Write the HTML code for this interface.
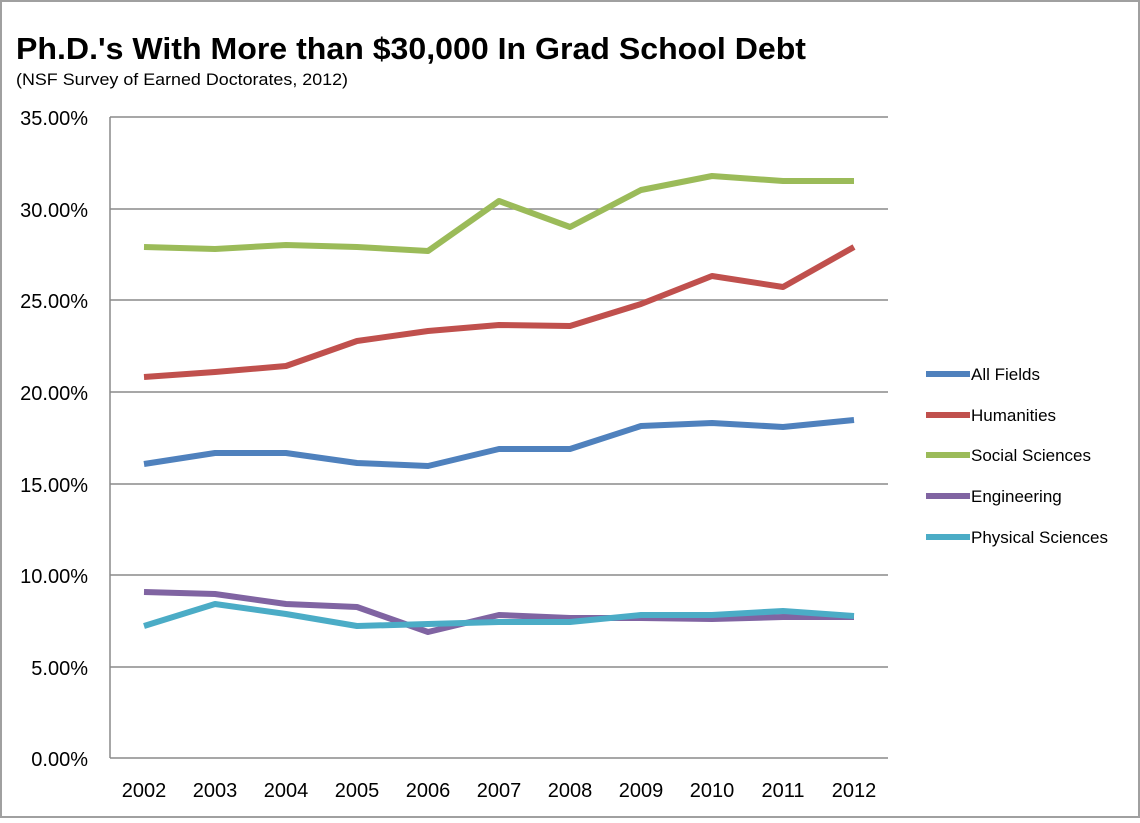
<!DOCTYPE html>
<html><head><style>body{margin:0;background:#fff}</style></head><body>
<svg width="1140" height="818" xmlns="http://www.w3.org/2000/svg" font-family="Liberation Sans, sans-serif">
<rect x="1" y="1" width="1138" height="816" fill="#fff" stroke="#a0a0a0" stroke-width="2"/>
<text x="16" y="59" font-size="31" font-weight="bold" textLength="790" lengthAdjust="spacingAndGlyphs">Ph.D.'s With More than $30,000 In Grad School Debt</text>
<text x="16" y="85" font-size="17" textLength="332" lengthAdjust="spacingAndGlyphs">(NSF Survey of Earned Doctorates, 2012)</text>
<g stroke="#8a8a8a" stroke-width="1.5">
<line x1="110" y1="117" x2="888" y2="117"/><line x1="110" y1="209" x2="888" y2="209"/>
<line x1="110" y1="300" x2="888" y2="300"/><line x1="110" y1="392" x2="888" y2="392"/>
<line x1="110" y1="484" x2="888" y2="484"/><line x1="110" y1="575" x2="888" y2="575"/>
<line x1="110" y1="667" x2="888" y2="667"/><line x1="110" y1="758" x2="888" y2="758"/>
<line x1="110" y1="117" x2="110" y2="758"/>
</g>
<g font-size="20" text-anchor="end">
<text x="88" y="125">35.00%</text><text x="88" y="217">30.00%</text><text x="88" y="308">25.00%</text>
<text x="88" y="400">20.00%</text><text x="88" y="492">15.00%</text><text x="88" y="583">10.00%</text>
<text x="88" y="675">5.00%</text><text x="88" y="766">0.00%</text>
</g>
<g font-size="20" text-anchor="middle">
<text x="144" y="797">2002</text><text x="215" y="797">2003</text><text x="286" y="797">2004</text>
<text x="357" y="797">2005</text><text x="428" y="797">2006</text><text x="499" y="797">2007</text>
<text x="570" y="797">2008</text><text x="641" y="797">2009</text><text x="712" y="797">2010</text>
<text x="783" y="797">2011</text><text x="854" y="797">2012</text>
</g>
<g fill="none" stroke-width="6" stroke-linejoin="round">
<polyline stroke="#9bbb59" points="144,247 215,249 286,245 357,247 428,251 499,201 570,227 641,190 712,176 783,181 854,181"/>
<polyline stroke="#c0504d" points="144,377 215,372 286,366 357,341 428,331 499,325 570,326 641,304 712,276 783,287 854,247"/>
<polyline stroke="#4f81bd" points="144,464 215,453 286,453 357,463 428,466 499,449 570,449 641,426 712,423 783,427 854,420"/>
<polyline stroke="#8064a2" points="144,592 215,594 286,604 357,607 428,632 499,615 570,618 641,618 712,619 783,617 854,617"/>
<polyline stroke="#4bacc6" points="144,626 215,604 286,614 357,626 428,624 499,622 570,622 641,615 712,615 783,611 854,616"/>
</g>
<g stroke-width="6">
<line x1="926" y1="374" x2="970" y2="374" stroke="#4f81bd"/>
<line x1="926" y1="415" x2="970" y2="415" stroke="#c0504d"/>
<line x1="926" y1="455" x2="970" y2="455" stroke="#9bbb59"/>
<line x1="926" y1="496" x2="970" y2="496" stroke="#8064a2"/>
<line x1="926" y1="537" x2="970" y2="537" stroke="#4bacc6"/>
</g>
<g font-size="17">
<text x="971" y="380">All Fields</text><text x="971" y="421">Humanities</text>
<text x="971" y="461">Social Sciences</text><text x="971" y="502">Engineering</text>
<text x="971" y="543">Physical Sciences</text>
</g>
</svg>
</body></html>
